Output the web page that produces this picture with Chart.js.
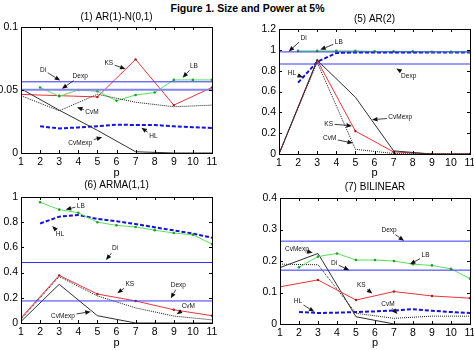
<!DOCTYPE html>
<html><head><meta charset="utf-8">
<script src="https://cdn.jsdelivr.net/npm/chart.js@4/dist/chart.umd.min.js"></script>
<style>
html,body{margin:0;padding:0;background:#fff;}
#wrap{position:relative;width:474px;height:350px;overflow:hidden;font-family:"Liberation Sans",Arial,sans-serif;}
#wrap canvas{position:absolute;}
#main{position:absolute;left:0;width:495px;top:2px;text-align:center;font-weight:bold;font-size:10.5px;line-height:12px;color:#000;}
</style></head><body>
<div id="wrap">
<div id="main">Figure 1. Size and Power at 5%</div>
<canvas id="c1" width="237" height="180" style="left:0;top:0"></canvas>
<canvas id="c2" width="237" height="180" style="left:237px;top:0"></canvas>
<canvas id="c3" width="237" height="175" style="left:0;top:175px"></canvas>
<canvas id="c4" width="237" height="175" style="left:237px;top:175px"></canvas>
</div>
<script>
// ---- x positions (lag p) ----
const P_ENDS = [1, 11];
const P_ODD = [1, 3, 5, 7, 9, 11];
const P_FROM2 = [2, 3, 4, 5, 6, 7, 8, 9, 10, 11];

// ---- (1) AR(1)-N(0,1) ----
const ar1_Di = [0.0565, 0.0565];
const ar1_Dexp = [0.0502, 0.0502];
const ar1_KS = [0.0465, 0.0455, 0.0445, 0.0743, 0.038, 0.052];
const ar1_LB = [0.052, 0.045, 0.050, 0.049, 0.0415, 0.046, 0.048, 0.058, 0.058, 0.058];
const ar1_CvM = [0.0455, 0.0335, 0.0466, 0.0403, 0.0367, 0.038];
const ar1_CvMexp = [0.051, 0.034, 0.018, 0.001, 0.0, 0.0];
const ar1_HL = [0.0212, 0.0195, 0.0203, 0.0213, 0.0225, 0.0222, 0.0222, 0.0212, 0.0205, 0.0198];

// ---- (5) AR(2) ----
const ar2_Di = [0.98, 0.98];
const ar2_Dexp = [0.864, 0.864];
const ar2_LB = [0.99, 0.99, 0.99, 0.99, 0.985, 0.985, 0.985, 0.98, 0.98, 0.98];
const ar2_HL = [0.685, 0.885, 0.97, 0.975, 0.975, 0.975, 0.975, 0.975, 0.975, 0.975];
const ar2_KS = [0.0, 0.90, 0.22, 0.02, 0.0, 0.0];
const ar2_CvM = [0.0, 0.88, 0.045, 0.005, 0.0, 0.0];
const ar2_CvMexp = [0.0, 0.90, 0.545, 0.03, 0.0, 0.0];

// ---- (6) ARMA(1,1) ----
const arma_Di = [0.48, 0.48];
const arma_Dexp = [0.175, 0.175];
const arma_LB = [0.958, 0.90, 0.875, 0.80, 0.775, 0.762, 0.737, 0.714, 0.70, 0.627];
const arma_HL = [0.79, 0.844, 0.857, 0.826, 0.808, 0.785, 0.76, 0.735, 0.71, 0.677];
const arma_KS = [0.04, 0.378, 0.23, 0.175, 0.105, 0.058];
const arma_CvM = [0.03, 0.368, 0.215, 0.12, 0.055, 0.025];
const arma_CvMexp = [0.012, 0.307, 0.058, 0.0, 0.0, 0.0];

// ---- (7) BILINEAR ----
const bil_Di = [0.171, 0.171];
const bil_Dexp = [0.263, 0.263];
const bil_LB = [0.18, 0.214, 0.224, 0.203, 0.203, 0.20, 0.19, 0.186, 0.175, 0.144];
const bil_HL = [0.038, 0.035, 0.036, 0.038, 0.040, 0.043, 0.047, 0.042, 0.038, 0.035];
const bil_KS = [0.118, 0.14, 0.076, 0.103, 0.089, 0.082];
const bil_CvM = [0.19, 0.188, 0.034, 0.018, 0.025, 0.025];
const bil_CvMexp = [0.179, 0.224, 0.023, 0.0, 0.0, 0.0];

const FONT = '"Liberation Sans", Arial, sans-serif';

const STYLE = {
  Di:     {borderColor: '#2f2fff', borderWidth: 1},
  Dexp:   {borderColor: '#3a3aff', borderWidth: 1},
  LB:     {borderColor: '#55e455', borderWidth: 1, pointRadius: 1.3, pointBackgroundColor: '#2a9a2a', pointBorderWidth: 0},
  KS:     {borderColor: '#e8333a', borderWidth: 1, pointRadius: 1.2, pointBackgroundColor: '#b01818', pointBorderWidth: 0},
  CvM:    {borderColor: '#1a1a1a', borderWidth: 1, borderDash: [1, 1]},
  CvMexp: {borderColor: '#303030', borderWidth: 1},
  HL:     {borderColor: '#1414d2', borderWidth: 2, borderDash: [4, 2]}
};

function pts(xs, ys) { return xs.map((x, i) => ({x: x, y: ys[i]})); }

function framePlugin(opt) {
  return {
    id: 'frame',
    afterDatasetsDraw(chart) {
      const ctx = chart.ctx, a = chart.chartArea;
      const xs = chart.scales.x, ys = chart.scales.y;
      ctx.save();
      ctx.strokeStyle = '#000';
      ctx.lineWidth = 1;
      ctx.strokeRect(Math.round(a.left) + 0.5, Math.round(a.top) + 0.5, Math.round(a.right - a.left), Math.round(a.bottom - a.top));
      ctx.beginPath();
      xs.ticks.forEach(t => {
        const px = Math.round(xs.getPixelForValue(t.value)) + 0.5;
        ctx.moveTo(px, a.bottom); ctx.lineTo(px, a.bottom - 3);
        ctx.moveTo(px, a.top); ctx.lineTo(px, a.top + 3);
      });
      ys.ticks.forEach(t => {
        const py = Math.round(ys.getPixelForValue(t.value)) + 0.5;
        ctx.moveTo(a.left, py); ctx.lineTo(a.left + 3, py);
        ctx.moveTo(a.right, py); ctx.lineTo(a.right - 3, py);
      });
      ctx.stroke();
      // subplot title
      ctx.fillStyle = '#000';
      ctx.font = '10px ' + FONT;
      ctx.textAlign = 'center';
      ctx.textBaseline = 'middle';
      ctx.fillText(opt.title, (a.left + a.right) / 2, a.top - opt.titleOff);
      // arrow annotations
      ctx.font = '6.5px ' + FONT;
      ctx.fillStyle = '#111';
      ctx.strokeStyle = '#111';
      opt.notes.forEach(n => {
        const tx = xs.getPixelForValue(n.tx), ty = ys.getPixelForValue(n.ty);
        const ax = xs.getPixelForValue(n.ax), ay = ys.getPixelForValue(n.ay);
        ctx.fillText(n.text, tx, ty);
        const w = ctx.measureText(n.text).width / 2 + 1.5, h = 4.5;
        const dx = ax - tx, dy = ay - ty, L = Math.hypot(dx, dy) || 1;
        const ux = dx / L, uy = dy / L;
        const off = Math.min(Math.abs(ux) > 1e-6 ? w / Math.abs(ux) : 1e9, Math.abs(uy) > 1e-6 ? h / Math.abs(uy) : 1e9);
        const sx = tx + ux * off, sy = ty + uy * off;
        const hl = 5.5, hw = 2.3;
        const bx = ax - ux * hl, by = ay - uy * hl;
        ctx.lineWidth = 0.8;
        ctx.beginPath(); ctx.moveTo(sx, sy); ctx.lineTo(bx, by); ctx.stroke();
        ctx.beginPath(); ctx.moveTo(ax, ay);
        ctx.lineTo(bx - uy * hw, by + ux * hw);
        ctx.lineTo(bx + uy * hw, by - ux * hw);
        ctx.closePath(); ctx.fill();
      });
      ctx.restore();
    }
  };
}

function makeChart(id, opt) {
  const datasets = opt.series.map(s => Object.assign(
    {data: pts(s.x, s.y), showLine: true, fill: false, pointRadius: 0, tension: 0},
    STYLE[s.name], s.style || {}));
  return new Chart(document.getElementById(id), {
    type: 'scatter',
    data: {datasets: datasets},
    options: {
      responsive: false, animation: false, devicePixelRatio: 1,
      layout: {padding: opt.pad},
      plugins: {legend: {display: false}, tooltip: {enabled: false}},
      scales: {
        x: {
          type: 'linear', min: 1, max: 11,
          ticks: {stepSize: 1, padding: 3, color: '#000', font: {size: 10.5, family: FONT}, maxRotation: 0, autoSkip: false},
          grid: {display: false, drawTicks: false},
          border: {display: false},
          title: {display: true, text: 'p', color: '#000', font: {size: 11, family: FONT}, padding: {top: 0, bottom: 0}},
          afterFit(s) { s.height = opt.xh; s.paddingLeft = 0; s.paddingRight = 0; }
        },
        y: {
          type: 'linear', min: 0, max: opt.ymax,
          ticks: {stepSize: opt.ystep, padding: 3, color: '#000', font: {size: 10.5, family: FONT},
                  callback: v => String(+(+v).toFixed(3))},
          grid: {display: false, drawTicks: false},
          border: {display: false},
          afterFit(s) { s.width = opt.yw; s.paddingTop = 0; s.paddingBottom = 0; }
        }
      }
    },
    plugins: [framePlugin(opt)]
  });
}

makeChart('c1', {
  title: '(1) AR(1)-N(0,1)', titleOff: 10,
  pad: {left: 0, top: 27, right: 25, bottom: 0}, yw: 21, xh: 27,
  ymax: 0.1, ystep: 0.05,
  series: [
    {name: 'Di', x: P_ENDS, y: ar1_Di},
    {name: 'Dexp', x: P_ENDS, y: ar1_Dexp, style: {borderColor: '#8585f2', borderWidth: 2.2}},
    {name: 'CvMexp', x: P_ODD, y: ar1_CvMexp},
    {name: 'CvM', x: P_ODD, y: ar1_CvM},
    {name: 'HL', x: P_FROM2, y: ar1_HL},
    {name: 'LB', x: P_FROM2, y: ar1_LB},
    {name: 'KS', x: P_ODD, y: ar1_KS}
  ],
  notes: [
    {text: 'Di', tx: 2.16, ty: 0.066, ax: 3.05, ay: 0.0575},
    {text: 'Dexp', tx: 4.1, ty: 0.061, ax: 3.14, ay: 0.051},
    {text: 'KS', tx: 5.6, ty: 0.0714, ax: 6.47, ay: 0.0667},
    {text: 'LB', tx: 10.05, ty: 0.069, ax: 9.46, ay: 0.0598},
    {text: 'CvM', tx: 4.72, ty: 0.032, ax: 3.93, ay: 0.0363},
    {text: 'HL', tx: 7.93, ty: 0.0135, ax: 7.3, ay: 0.020},
    {text: 'CvMexp', tx: 4.1, ty: 0.0077, ax: 5.25, ay: 0.0125}
  ]
});

makeChart('c2', {
  title: '(5) AR(2)', titleOff: 10,
  pad: {left: 12, top: 29, right: 3, bottom: 0}, yw: 30, xh: 26,
  ymax: 1.2, ystep: 0.2,
  series: [
    {name: 'Di', x: P_ENDS, y: ar2_Di},
    {name: 'Dexp', x: P_ENDS, y: ar2_Dexp},
    {name: 'LB', x: P_FROM2, y: ar2_LB},
    {name: 'CvMexp', x: P_ODD, y: ar2_CvMexp},
    {name: 'CvM', x: P_ODD, y: ar2_CvM},
    {name: 'KS', x: P_ODD, y: ar2_KS},
    {name: 'HL', x: P_FROM2, y: ar2_HL}
  ],
  notes: [
    {text: 'Di', tx: 2.29, ty: 1.113, ax: 1.51, ay: 0.985},
    {text: 'LB', tx: 4.13, ty: 1.075, ax: 3.16, ay: 1.0},
    {text: 'HL', tx: 1.68, ty: 0.775, ax: 2.26, ay: 0.737},
    {text: 'Dexp', tx: 7.79, ty: 0.75, ax: 7.14, ay: 0.82},
    {text: 'CvMexp', tx: 7.35, ty: 0.35, ax: 5.87, ay: 0.33},
    {text: 'KS', tx: 3.6, ty: 0.29, ax: 4.82, ay: 0.27},
    {text: 'CvM', tx: 3.65, ty: 0.15, ax: 4.87, ay: 0.105}
  ]
});

makeChart('c3', {
  title: '(6) ARMA(1,1)', titleOff: 12,
  pad: {left: 0, top: 22, right: 25, bottom: 0}, yw: 21, xh: 27,
  ymax: 1, ystep: 0.2,
  series: [
    {name: 'Di', x: P_ENDS, y: arma_Di},
    {name: 'Dexp', x: P_ENDS, y: arma_Dexp},
    {name: 'LB', x: P_FROM2, y: arma_LB},
    {name: 'HL', x: P_FROM2, y: arma_HL},
    {name: 'CvMexp', x: P_ODD, y: arma_CvMexp},
    {name: 'CvM', x: P_ODD, y: arma_CvM},
    {name: 'KS', x: P_ODD, y: arma_KS}
  ],
  notes: [
    {text: 'LB', tx: 4.13, ty: 0.93, ax: 3.34, ay: 0.90},
    {text: 'HL', tx: 3.04, ty: 0.706, ax: 2.64, ay: 0.77},
    {text: 'Di', tx: 5.92, ty: 0.59, ax: 5.45, ay: 0.50},
    {text: 'KS', tx: 6.7, ty: 0.31, ax: 6.04, ay: 0.236},
    {text: 'Dexp', tx: 9.24, ty: 0.30, ax: 8.84, ay: 0.196},
    {text: 'CvM', tx: 9.76, ty: 0.13, ax: 9.15, ay: 0.07},
    {text: 'CvMexp', tx: 3.2, ty: 0.055, ax: 4.65, ay: 0.09}
  ]
});

makeChart('c4', {
  title: '(7) BILINEAR', titleOff: 11,
  pad: {left: 13, top: 23, right: 2, bottom: 0}, yw: 30, xh: 26,
  ymax: 0.4, ystep: 0.1,
  series: [
    {name: 'Di', x: P_ENDS, y: bil_Di},
    {name: 'Dexp', x: P_ENDS, y: bil_Dexp},
    {name: 'LB', x: P_FROM2, y: bil_LB},
    {name: 'KS', x: P_ODD, y: bil_KS},
    {name: 'CvMexp', x: P_ODD, y: bil_CvMexp},
    {name: 'CvM', x: P_ODD, y: bil_CvM},
    {name: 'HL', x: P_FROM2, y: bil_HL}
  ],
  notes: [
    {text: 'Dexp', tx: 6.74, ty: 0.298, ax: 7.53, ay: 0.264},
    {text: 'CvMexp', tx: 1.89, ty: 0.238, ax: 2.72, ay: 0.226},
    {text: 'LB', tx: 8.66, ty: 0.217, ax: 7.84, ay: 0.19},
    {text: 'Di', tx: 3.85, ty: 0.193, ax: 4.65, ay: 0.171},
    {text: 'KS', tx: 5.28, ty: 0.124, ax: 5.86, ay: 0.097},
    {text: 'HL', tx: 1.94, ty: 0.071, ax: 2.81, ay: 0.039},
    {text: 'CvM', tx: 6.68, ty: 0.064, ax: 7.18, ay: 0.032}
  ]
});
</script>
</body></html>
